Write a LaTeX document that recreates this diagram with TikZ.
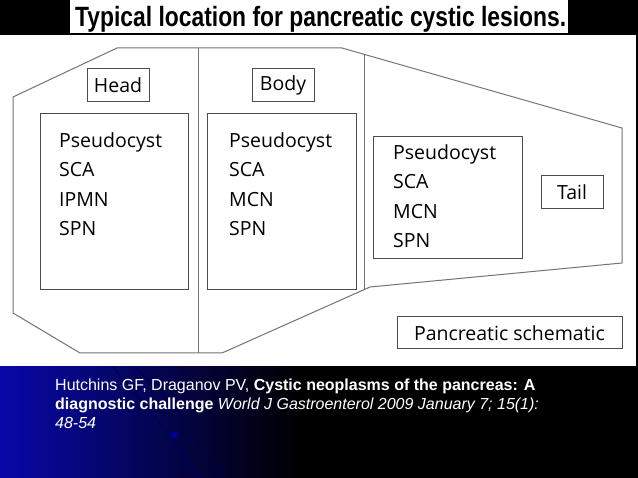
\documentclass[tikz,border=0pt]{standalone}
\usepackage{fontspec}
\usepackage{graphicx}
\newfontfamily\boxfont{Open Sans}
\newfontfamily\citefont{Liberation Sans}
\usetikzlibrary{positioning}
\definecolor{slideblue}{RGB}{8,8,170}

\begin{document}
\begin{tikzpicture}[x=1pt, y=-1pt,
	outline/.style={draw=black!55, line width=1pt},
	labelbox/.style={draw=black!70, line width=1pt, font=\boxfont\fontsize{19.5}{23}\selectfont, minimum height=33pt, inner sep=0pt},
	listbox/.style={draw=black!70, line width=1pt, inner sep=0pt, anchor=north west, minimum height=176pt},
	listtext/.style={font=\boxfont\fontsize{19.5}{29.5}\selectfont, align=left, inner sep=0pt, anchor=north west}]
	% slide background
	\useasboundingbox (0,0) rectangle (638,478);
	\fill[black] (0,0) rectangle (638,478);
	\shade[left color=slideblue, right color=black] (0,366) rectangle (300,478);
	\draw[blue!35!black, line width=1.5pt] (112,366) .. controls (150,410) .. (200,478);
	\draw[blue!30!black, line width=1.2pt] (135,366) .. controls (172,404) .. (222,478);
	\fill[blue!55!black] (174,435) circle (4);
	\fill[white] (0,35) rectangle (636,366);
	\fill[white] (70,0) rectangle (568,33);
	\node[anchor=north west, inner sep=0pt] (title) at (75,6) {\resizebox*{491pt}{26pt}{\citefont\bfseries Typical location for pancreatic cystic lesions.}};

	% pancreas outline
	\draw[outline] (117,48) -- (342,48) -- (622,128) -- (622,263) -- (370,287) -- (222,353) -- (80,353) -- (13,313) -- (13,97) -- cycle;
	\draw[outline] (198,48) -- (198,353);
	\draw[outline] (364,54) -- (364,289);

	\node[labelbox, minimum width=62pt] (head) at (118,85.5) {Head};
	\node[labelbox, minimum width=62pt] (body) at (283,85.5) {Body};
	\node[labelbox, minimum width=62pt] (tail) at (572,192.5) {Tail};
	\node[labelbox, minimum width=225pt, minimum height=32pt] (schematic) at (509.5,333) {Pancreatic schematic};

	\node[listbox, minimum width=148pt] (headlist) at (40,113) {};
	\node[listbox, minimum width=149pt] (bodylist) at (207,113) {};
	\node[listbox, minimum width=149pt, minimum height=122pt] (taillist) at (373,136) {};
	\node[listtext] (headtext) at (59,132) {Pseudocyst\\SCA\\IPMN\\SPN};
	\node[listtext] (bodytext) at (229,132) {Pseudocyst\\SCA\\MCN\\SPN};
	\node[listtext] (tailtext) at (393,144) {Pseudocyst\\SCA\\MCN\\SPN};

	% reference
	\node[anchor=north west, inner sep=0pt, text=white, align=left, font=\citefont\fontsize{16}{18.7}\selectfont] (cite) at (55,379)
		{Hutchins GF, Draganov PV, \textbf{Cystic neoplasms of the pancreas: A}\\
		 \textbf{diagnostic challenge} \textit{World J Gastroenterol 2009 January 7; 15(1):}\\
		 \textit{48-54}};
\end{tikzpicture}
\end{document}
